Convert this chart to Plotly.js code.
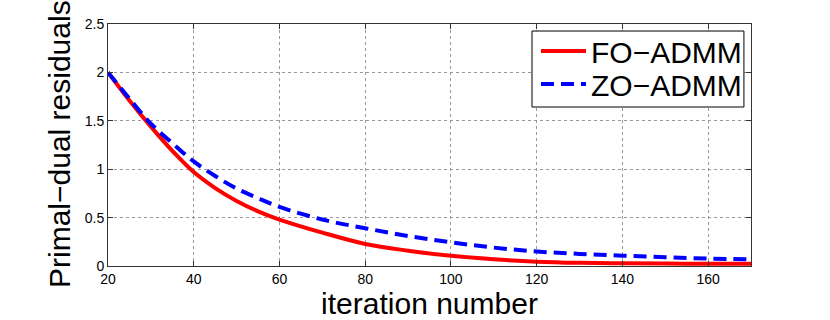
<!DOCTYPE html>
<html>
<head>
<meta charset="utf-8">
<script src="https://cdn.plot.ly/plotly-3.0.1.min.js"></script>
<style>html,body{margin:0;padding:0;background:#fff;}#chart{width:830px;height:320px;}</style>
</head>
<body>
<div id="chart"></div>
<script>
const iterations = [20,25,30,35,40,45,50,55,60,70,80,90,100,110,120,130,140,150,160,170];
const foAdmm = [2.0,1.71,1.44,1.19,0.97,0.805,0.672,0.565,0.48,0.345,0.228,0.158,0.105,0.07,0.045,0.033,0.028,0.025,0.024,0.024];
const zoAdmm = [2.0,1.73,1.47,1.27,1.08,0.93,0.80,0.70,0.61,0.48,0.39,0.31,0.245,0.19,0.15,0.125,0.107,0.09,0.077,0.069];
const xTicks = [20,40,60,80,100,120,140,160];
const yTicks = [0,0.5,1,1.5,2,2.5];
const yTickText = ['0','0.5','1','1.5','2','2.5'];

const font = 'Liberation Sans, Arial, Helvetica, sans-serif';
const traces = [
  {x: iterations, y: foAdmm, name: 'FO\u2212ADMM', mode: 'lines', legend: 'legend',
   line: {color: '#ff0000', width: 4, shape: 'spline', smoothing: 1}},
  {x: iterations, y: zoAdmm, name: 'ZO\u2212ADMM', mode: 'lines', legend: 'legend2',
   line: {color: '#0000ff', width: 4, dash: '13px,7px', shape: 'spline', smoothing: 1}}
];
const axisCommon = {
  showline: true, linecolor: '#333', linewidth: 1, mirror: 'ticks',
  ticks: 'inside', ticklen: 5, tickcolor: '#333',
  showgrid: true, gridcolor: '#999999', griddash: 'dot', gridwidth: 1,
  zeroline: false, tickfont: {family: font, size: 14, color: '#000'}
};
const legendCommon = {xanchor: 'left', yanchor: 'top', bgcolor: 'rgba(0,0,0,0)',
  borderwidth: 0, itemwidth: 45, font: {family: font, size: 30, color: '#000'}};
const layout = {
  width: 830, height: 320,
  margin: {l: 108, r: 79, t: 24, b: 54},
  paper_bgcolor: '#fff', plot_bgcolor: '#fff',
  showlegend: true,
  legend: Object.assign({}, legendCommon, {x: 0.6656, y: 0.9959}),
  legend2: Object.assign({}, legendCommon, {x: 0.6656, y: 0.8595}),
  shapes: [{type: 'rect', xref: 'paper', yref: 'paper', x0: 0.6594, x1: 0.989, y0: 0.657, y1: 0.971,
    line: {color: '#000', width: 1}, fillcolor: '#fff', layer: 'above'}],
  annotations: [{text: 'Primal\u2212dual residuals', xref: 'paper', yref: 'paper', x: 0, y: 0.5,
    xanchor: 'center', yanchor: 'middle', xshift: -49, yshift: 1, textangle: -90, showarrow: false,
    font: {family: font, size: 30, color: '#000'}}],
  xaxis: Object.assign({}, axisCommon, {
    range: [20, 170], tickvals: xTicks, ticktext: xTicks.map(String),
    title: {text: 'iteration number', font: {family: font, size: 30, color: '#000'}, standoff: 0}
  }),
  yaxis: Object.assign({}, axisCommon, {
    range: [0, 2.5], tickvals: yTicks, ticktext: yTickText
  })
};
Plotly.newPlot('chart', traces, layout, {displayModeBar: false, staticPlot: true});
</script>
</body>
</html>
